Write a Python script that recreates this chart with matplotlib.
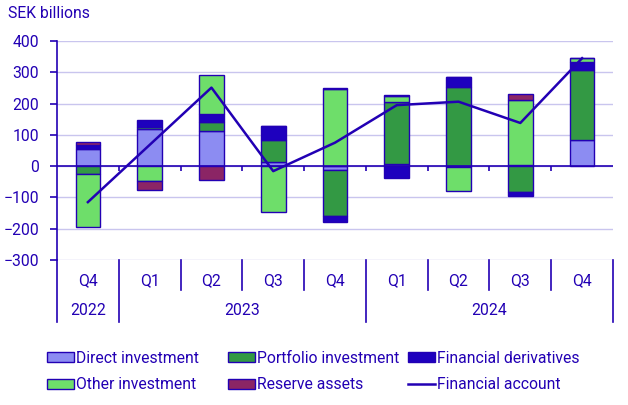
import numpy as np
import matplotlib.pyplot as plt
from matplotlib.patches import Rectangle
from matplotlib.lines import Line2D
import matplotlib.transforms as mtransforms

plt.rcParams['font.family'] = ['Roboto', 'DejaVu Sans']

quarters = ["Q4", "Q1", "Q2", "Q3", "Q4", "Q1", "Q2", "Q3", "Q4"]
years = ["2022", "2023", "2024"]
year_span = [1, 4, 4]

direct = [56, 120, 111, 12, -11, 7, -4, 5, 82]
portfolio = [-26, 4, 31, 72, -149, 197, 254, -84, 226]
derivatives = [10, 25, 24, 43, -18, -37, 30, -13, 24]
other = [-167, -46, 124, -145, 245, 19, -74, 208, 13]
reserve = [12, -29, -43, 0, 6, 4, 0, 19, 0]
financial_account = [-115, 68, 251, -16, 75, 195, 206, 138, 345]

series = [
    ("Direct investment", direct, "#8c8cf2"),
    ("Portfolio investment", portfolio, "#339944"),
    ("Financial derivatives", derivatives, "#1e00be"),
    ("Other investment", other, "#6ede6a"),
    ("Reserve assets", reserve, "#8b2565"),
]

dark = "#2200b4"
grid_c = "#c9c5ee"
fs = 11.3

fig = plt.figure(figsize=(6.28, 4.05), dpi=100)
ax = fig.add_axes([57/628, 1-260/405, 556/628, 219/405])

x = np.arange(len(quarters))
pos_base = np.zeros(len(x))
neg_base = np.zeros(len(x))
for name, vals, col in series:
    v = np.array(vals, dtype=float)
    bottom = np.where(v >= 0, pos_base, neg_base)
    ax.bar(x, v, 0.4, bottom=bottom, color=col, edgecolor=dark, linewidth=1, zorder=3)
    pos_base += np.where(v >= 0, v, 0)
    neg_base += np.where(v < 0, v, 0)

ax.plot(x, financial_account, color=dark, linewidth=1.8, zorder=4)

ax.set_xlim(-0.5, len(x) - 0.5)
ax.set_ylim(-300, 400)
ax.set_yticks(np.arange(-300, 401, 100))
for t in np.arange(-300, 401, 100):
    ax.axhline(t, color=grid_c, linewidth=1, zorder=1)
ax.axhline(0, color=dark, linewidth=1.2, zorder=5)

for s in ["top", "right", "bottom"]:
    ax.spines[s].set_visible(False)
ax.spines["left"].set_color(dark)
ax.spines["left"].set_linewidth(1.2)
ax.tick_params(axis="y", colors=dark, labelsize=fs, length=5, width=1.2, pad=8)
ax.set_xticks([])

# small ticks on the zero line between categories
bounds = np.arange(0.5, len(x) - 0.5, 1)
ax.vlines(bounds, -16, 0, color=dark, linewidth=1.2, zorder=5)

# category axis below the plot
trans = mtransforms.blended_transform_factory(ax.transData, ax.transAxes)
for i, q in enumerate(quarters):
    ax.text(i, -0.093, q, transform=trans, ha="center", va="center",
            color=dark, fontsize=fs)
year_edges = np.concatenate([[0], np.cumsum(year_span)]) - 0.5
for b in np.arange(-0.5, len(x) + 0.5, 1):
    low = -0.283 if b in year_edges else -0.137
    ax.plot([b, b], [0, low], transform=trans, color=dark, linewidth=1.2, clip_on=False)
for i, yr in enumerate(years):
    mid = (year_edges[i] + year_edges[i + 1]) / 2
    ax.text(mid, -0.23, yr, transform=trans, ha="center", va="center",
            color=dark, fontsize=fs)

fig.text(8/628, 1-14/405, "SEK billions", color=dark, fontsize=fs, va="center", ha="left")

# legend, three fixed columns
handles = [Rectangle((0, 0), 1, 1, facecolor=col, edgecolor=dark, linewidth=1)
           for _, _, col in series]
handles.append(Line2D([0], [0], color=dark, linewidth=1.8))
labels = [s[0] for s in series] + ["Financial account"]
order = [[0, 3], [1, 4], [2, 5]]
col_x = [42.5/628, 223.5/628, 403.5/628]
for cx, idx in zip(col_x, order):
    leg = fig.legend([handles[i] for i in idx], [labels[i] for i in idx],
                     loc="upper left", bbox_to_anchor=(cx, 1-346/405),
                     frameon=False, fontsize=fs, handlelength=1.7, handleheight=0.58,
                     handletextpad=0.15, labelspacing=0.75, borderaxespad=0,
                     borderpad=0.3)
    for t in leg.get_texts():
        t.set_color(dark)

fig.savefig("out.png", dpi=100)
